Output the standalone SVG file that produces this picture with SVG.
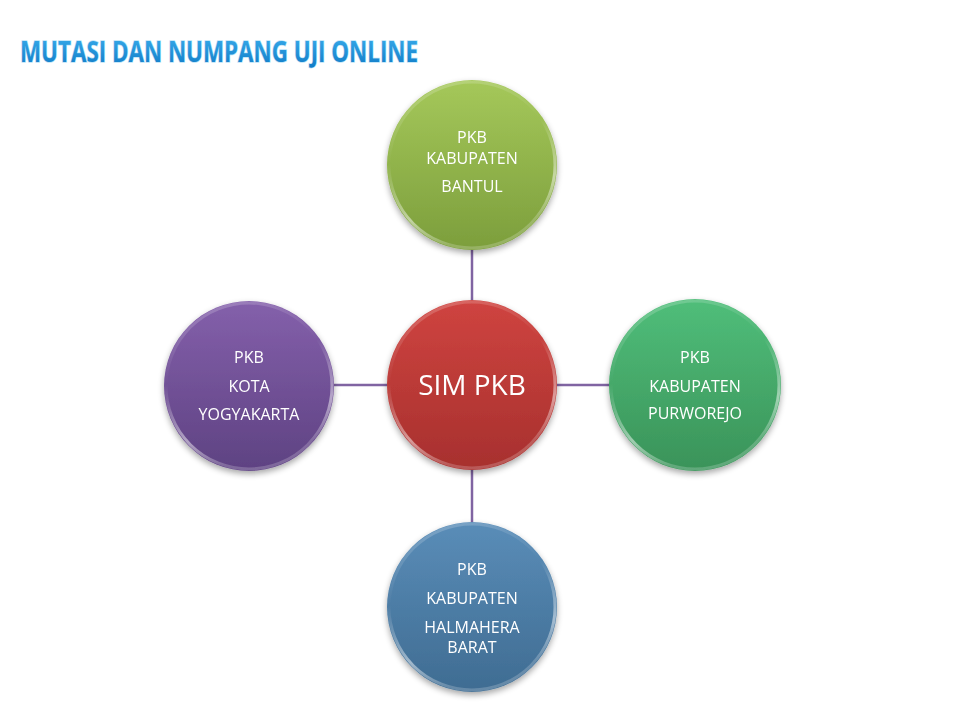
<svg xmlns="http://www.w3.org/2000/svg" width="960" height="720" viewBox="0 0 960 720">
  <defs>
    <linearGradient id="gGreen" x1="0" y1="0" x2="0" y2="1">
      <stop offset="0" stop-color="#A5C85A"/>
      <stop offset="1" stop-color="#7C9E3C"/>
    </linearGradient>
    <linearGradient id="gRed" x1="0" y1="0" x2="0" y2="1">
      <stop offset="0" stop-color="#CF4440"/>
      <stop offset="1" stop-color="#A7302E"/>
    </linearGradient>
    <linearGradient id="gBlue" x1="0" y1="0" x2="0" y2="1">
      <stop offset="0" stop-color="#5A8DB8"/>
      <stop offset="1" stop-color="#3F6C92"/>
    </linearGradient>
    <linearGradient id="gPurple" x1="0" y1="0" x2="0" y2="1">
      <stop offset="0" stop-color="#8460AB"/>
      <stop offset="1" stop-color="#5E4282"/>
    </linearGradient>
    <linearGradient id="gTeal" x1="0" y1="0" x2="0" y2="1">
      <stop offset="0" stop-color="#50BE7A"/>
      <stop offset="1" stop-color="#3A9359"/>
    </linearGradient>
    <linearGradient id="rim" x1="0" y1="0" x2="0.3" y2="1">
      <stop offset="0" stop-color="#ffffff" stop-opacity="0.25"/>
      <stop offset="0.45" stop-color="#ffffff" stop-opacity="0"/>
      <stop offset="0.8" stop-color="#ffffff" stop-opacity="0.5"/>
      <stop offset="1" stop-color="#ffffff" stop-opacity="0.2"/>
    </linearGradient>
    <linearGradient id="gTitle" x1="0" y1="0" x2="0" y2="1">
      <stop offset="0" stop-color="#3DB2F0"/>
      <stop offset="1" stop-color="#0E78C4"/>
    </linearGradient>
    <filter id="shadow" x="-20%" y="-20%" width="140%" height="140%">
      <feGaussianBlur in="SourceAlpha" stdDeviation="3"/>
      <feOffset dx="0" dy="3" result="b"/>
      <feComponentTransfer><feFuncA type="linear" slope="0.35"/></feComponentTransfer>
      <feMerge><feMergeNode/><feMergeNode in="SourceGraphic"/></feMerge>
    </filter>
  </defs>
  <style>
    .rim { fill: none; stroke: url(#rim); stroke-width: 3; }
    .lbl { font-family: "Open Sans", "Liberation Sans", sans-serif; font-size: 16px; fill: #ffffff; text-anchor: middle; }
    .big { font-family: "Open Sans", "Liberation Sans", sans-serif; font-size: 28px; fill: #ffffff; text-anchor: middle; }
    .conn { stroke: #8064A2; stroke-width: 2.5; fill: none; }
  </style>
  <rect width="960" height="720" fill="#ffffff"/>

  <text x="20" y="62" textLength="398" lengthAdjust="spacingAndGlyphs" font-family="'Open Sans', 'Liberation Sans', sans-serif" font-weight="bold" font-size="29" fill="url(#gTitle)" stroke="#BDE3F7" stroke-width="1.5" paint-order="stroke">MUTASI DAN NUMPANG UJI ONLINE</text>

  <g id="connectors">
    <line class="conn" x1="472" y1="250" x2="472" y2="300"/>
    <line class="conn" x1="472" y1="470" x2="472" y2="522"/>
    <line class="conn" x1="334" y1="385" x2="387" y2="385"/>
    <line class="conn" x1="557" y1="385" x2="610" y2="385"/>
  </g>

  <g id="bantul" filter="url(#shadow)">
    <circle cx="472" cy="165" r="85" fill="url(#gGreen)"/>
    <circle class="rim" cx="472" cy="165" r="83"/>
    <text class="lbl" x="472" y="143">PKB</text>
    <text class="lbl" x="472" y="164">KABUPATEN</text>
    <text class="lbl" x="472" y="192">BANTUL</text>
  </g>

  <g id="simpkb" filter="url(#shadow)">
    <circle cx="472" cy="385" r="85" fill="url(#gRed)"/>
    <circle class="rim" cx="472" cy="385" r="83"/>
    <text class="big" x="472" y="395">SIM PKB</text>
  </g>

  <g id="yogyakarta" filter="url(#shadow)">
    <circle cx="249" cy="386" r="85" fill="url(#gPurple)"/>
    <circle class="rim" cx="249" cy="386" r="83"/>
    <text class="lbl" x="249" y="363">PKB</text>
    <text class="lbl" x="249" y="392">KOTA</text>
    <text class="lbl" x="249" y="420">YOGYAKARTA</text>
  </g>

  <g id="purworejo" filter="url(#shadow)">
    <circle cx="695" cy="385" r="86" fill="url(#gTeal)"/>
    <circle class="rim" cx="695" cy="385" r="84"/>
    <text class="lbl" x="695" y="363">PKB</text>
    <text class="lbl" x="695" y="392">KABUPATEN</text>
    <text class="lbl" x="695" y="419">PURWOREJO</text>
  </g>

  <g id="halmahera" filter="url(#shadow)">
    <circle cx="472" cy="607" r="85" fill="url(#gBlue)"/>
    <circle class="rim" cx="472" cy="607" r="83"/>
    <text class="lbl" x="472" y="575">PKB</text>
    <text class="lbl" x="472" y="604">KABUPATEN</text>
    <text class="lbl" x="472" y="633">HALMAHERA</text>
    <text class="lbl" x="472" y="653">BARAT</text>
  </g>
</svg>
